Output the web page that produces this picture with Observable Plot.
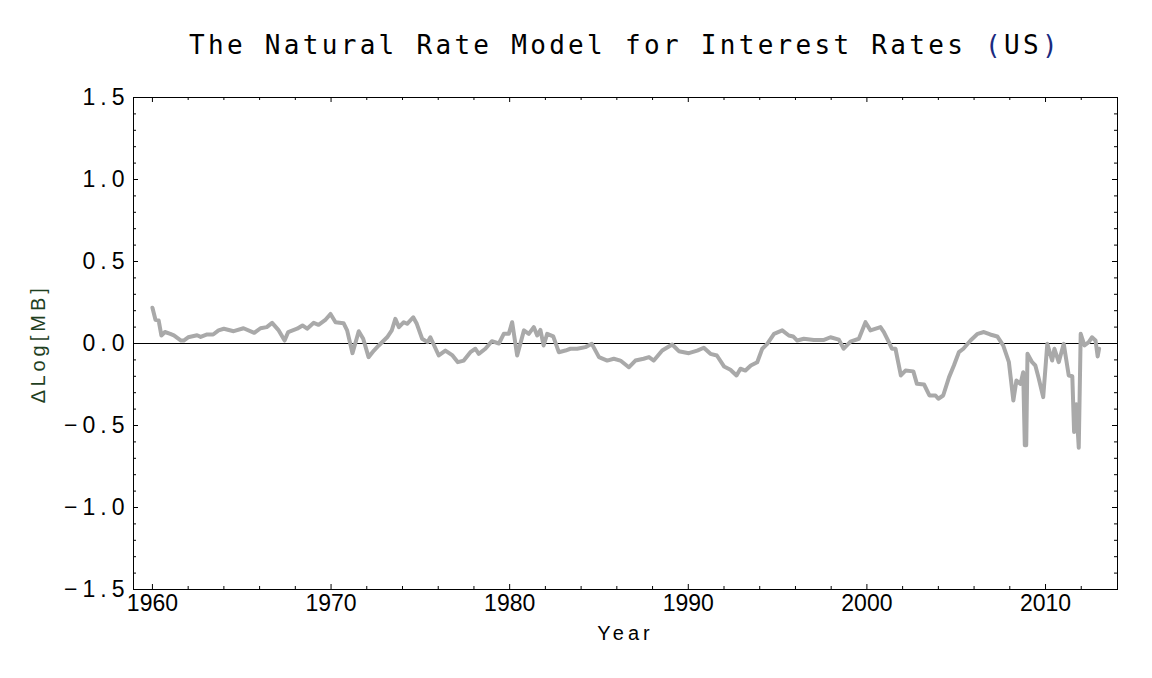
<!DOCTYPE html>
<html>
<head>
<meta charset="utf-8">
<script src="https://cdn.jsdelivr.net/npm/d3@7"></script>
<script src="https://cdn.jsdelivr.net/npm/@observablehq/plot@0.6"></script>
<style>
  body { margin: 0; background: #fff; }
  #title {
    height: 80px; margin-left: 133px; width: 984px; text-align: center;
    font-family: "DejaVu Sans Mono", monospace; font-size: 26px; letter-spacing: 3.3px;
    line-height: 90px; color: #000; box-sizing: border-box;
  }
  #title .par { color: #1a2a80; font-weight: 300; }
</style>
</head>
<body>
<div id="title">The Natural Rate Model for Interest Rates <span class="par">(</span>US<span class="par">)</span></div>
<div id="chart"></div>
<script>
const years = [
  1960.0, 1960.17, 1960.35, 1960.5, 1960.7, 1961.0, 1961.2, 1961.6, 1961.75, 1962.0,
  1962.5, 1962.7, 1963.06, 1963.4, 1963.7, 1964.0, 1964.55, 1965.1, 1965.7, 1966.05,
  1966.4, 1966.7, 1967.07, 1967.4, 1967.6, 1968.1, 1968.4, 1968.66, 1969.03, 1969.3,
  1969.7, 1969.97, 1970.25, 1970.7, 1970.9, 1971.2, 1971.55, 1971.8, 1972.1, 1972.4,
  1972.67, 1973.14, 1973.4, 1973.6, 1973.8, 1974.07, 1974.26, 1974.6, 1974.8, 1975.1,
  1975.4, 1975.56, 1976.03, 1976.4, 1976.8, 1977.1, 1977.43, 1977.8, 1978.08, 1978.27,
  1978.64, 1979.0, 1979.4, 1979.67, 1979.95, 1980.14, 1980.42, 1980.8, 1981.07, 1981.35,
  1981.54, 1981.72, 1981.9, 1982.1, 1982.44, 1982.75, 1983.12, 1983.4, 1983.78, 1984.24,
  1984.6, 1985.0, 1985.46, 1985.83, 1986.2, 1986.67, 1987.04, 1987.5, 1987.8, 1988.07,
  1988.54, 1989.1, 1989.47, 1990.03, 1990.5, 1990.87, 1991.24, 1991.6, 1992.0, 1992.36,
  1992.7, 1992.92, 1993.2, 1993.5, 1993.86, 1994.14, 1994.42, 1994.8, 1995.26, 1995.63,
  1995.87, 1996.1, 1996.47, 1997.03, 1997.6, 1997.96, 1998.43, 1998.7, 1999.08, 1999.55,
  1999.92, 2000.2, 2000.76, 2000.95, 2001.23, 2001.4, 2001.6, 2001.9, 2002.16, 2002.6,
  2002.8, 2003.2, 2003.5, 2003.84, 2004.0, 2004.27, 2004.6, 2004.87, 2005.15, 2005.4,
  2005.8, 2006.2, 2006.55, 2006.9, 2007.3, 2007.63, 2007.95, 2008.2, 2008.37, 2008.6,
  2008.75, 2008.84, 2008.92, 2008.99, 2009.25, 2009.43, 2009.6, 2009.87, 2010.1, 2010.37,
  2010.5, 2010.74, 2011.02, 2011.3, 2011.5, 2011.6, 2011.72, 2011.86, 2011.97, 2012.18,
  2012.42, 2012.6, 2012.8, 2012.92, 2013.0
];
const values = [
  0.218, 0.145, 0.14, 0.049, 0.07, 0.059, 0.05, 0.018, 0.018, 0.038,
  0.05, 0.04, 0.055, 0.055, 0.08, 0.09, 0.075, 0.093, 0.065, 0.093,
  0.1, 0.126, 0.08, 0.018, 0.07, 0.09, 0.11, 0.09, 0.126, 0.114,
  0.146, 0.18, 0.13, 0.124, 0.08, -0.059, 0.075, 0.029, -0.083, -0.043,
  -0.012, 0.038, 0.08, 0.15, 0.1, 0.13, 0.12, 0.16, 0.12, 0.029,
  0.008, 0.038, -0.073, -0.043, -0.073, -0.114, -0.104, -0.053, -0.032, -0.063,
  -0.032, 0.014, 0.0, 0.059, 0.059, 0.13, -0.073, 0.08, 0.059, 0.1,
  0.049, 0.083, -0.012, 0.059, 0.043, -0.053, -0.043, -0.032, -0.032, -0.022,
  -0.002, -0.083, -0.104, -0.093, -0.104, -0.145, -0.104, -0.093, -0.083, -0.104,
  -0.043, -0.006, -0.047, -0.059, -0.043, -0.026, -0.063, -0.073, -0.14, -0.16,
  -0.195, -0.154, -0.165, -0.134, -0.114, -0.032, -0.002, 0.059, 0.08, 0.049,
  0.043, 0.018, 0.029, 0.022, 0.022, 0.038, 0.024, -0.032, 0.012, 0.029,
  0.13, 0.08, 0.1, 0.07, 0.008, -0.032, -0.032, -0.195, -0.165, -0.17,
  -0.246, -0.25, -0.317, -0.317, -0.337, -0.317, -0.205, -0.134, -0.053, -0.032,
  0.018, 0.059, 0.07, 0.055, 0.043, -0.012, -0.114, -0.348, -0.226, -0.246,
  -0.175, -0.62, -0.62, -0.063, -0.114, -0.134, -0.205, -0.327, -0.002, -0.104,
  -0.032, -0.114, -0.002, -0.195, -0.2, -0.54, -0.37, -0.635, 0.059, -0.012,
  0.008, 0.038, 0.018, -0.079, -0.032
];
const xMajorTicks = [1960, 1970, 1980, 1990, 2000, 2010];
const xMinorTicks = d3.range(1960, 2014, 2).filter(v => v % 10 !== 0);
const yMajorTicks = [-1.5, -1.0, -0.5, 0.0, 0.5, 1.0, 1.5];
const yMinorTicks = d3.range(-14, 15).filter(v => v % 5 !== 0).map(v => v / 10);
const xLabel = "Year";
const yLabel = "\u2206Log[MB]";

const data = years.map((y, i) => ({year: y, value: values[i]}));

const W = 1152, H = 598, mt = 17, mb = 89, ml = 133, mr = 35;
const fh = H - mt - mb, fw = W - ml - mr;
const majorLen = 5, minorLen = 3;
const sans = "Liberation Sans, Arial, sans-serif";

const chart = Plot.plot({
  width: W, height: H,
  marginTop: mt, marginBottom: mb, marginLeft: ml, marginRight: mr,
  style: {background: "#fff", color: "#000"},
  x: {domain: [1958.94, 2014.03]},
  y: {domain: [-1.5, 1.5]},
  marks: [
    Plot.ruleY([0], {stroke: "#000", strokeWidth: 1}),
    Plot.line(data, {x: "year", y: "value", stroke: "#a9a9a9", strokeWidth: 4, strokeLinejoin: "round", strokeLinecap: "round"}),
    Plot.frame({stroke: "#000", strokeWidth: 1}),
    Plot.tickX(xMajorTicks, {x: d => d, insetTop: fh - majorLen, stroke: "#000"}),
    Plot.tickX(xMajorTicks, {x: d => d, insetBottom: fh - majorLen, stroke: "#000"}),
    Plot.tickX(xMinorTicks, {x: d => d, insetTop: fh - minorLen, stroke: "#000"}),
    Plot.tickX(xMinorTicks, {x: d => d, insetBottom: fh - minorLen, stroke: "#000"}),
    Plot.tickY(yMajorTicks, {y: d => d, insetRight: fw - majorLen, stroke: "#000"}),
    Plot.tickY(yMajorTicks, {y: d => d, insetLeft: fw - majorLen, stroke: "#000"}),
    Plot.tickY(yMinorTicks, {y: d => d, insetRight: fw - minorLen, stroke: "#000"}),
    Plot.tickY(yMinorTicks, {y: d => d, insetLeft: fw - minorLen, stroke: "#000"}),
    Plot.axisX(xMajorTicks, {tickSize: 0, tickPadding: 5, tickFormat: d3.format("d"), fontSize: 23, fontFamily: sans, label: null}),
    Plot.axisY(yMajorTicks, {tickSize: 0, tickPadding: 4, tickFormat: d3.format(".1f"), fontSize: 23, fontFamily: sans, label: null}),
    Plot.text([xLabel], {text: d => d, frameAnchor: "bottom", dy: 50, fontSize: 20, fontFamily: sans}),
    Plot.text([yLabel], {text: d => d, frameAnchor: "left", textAnchor: "middle", dx: -95, rotate: -90, fontSize: 20, fontFamily: sans, fill: "#1f3f1f"})
  ]
});
const sel = d3.select(chart);
sel.selectAll('g[aria-label="y-axis tick label"] text').style("letter-spacing", "5px");
sel.selectAll('g[aria-label="text"] text').style("letter-spacing", "4px");
document.getElementById("chart").appendChild(chart);
</script>
</body>
</html>
